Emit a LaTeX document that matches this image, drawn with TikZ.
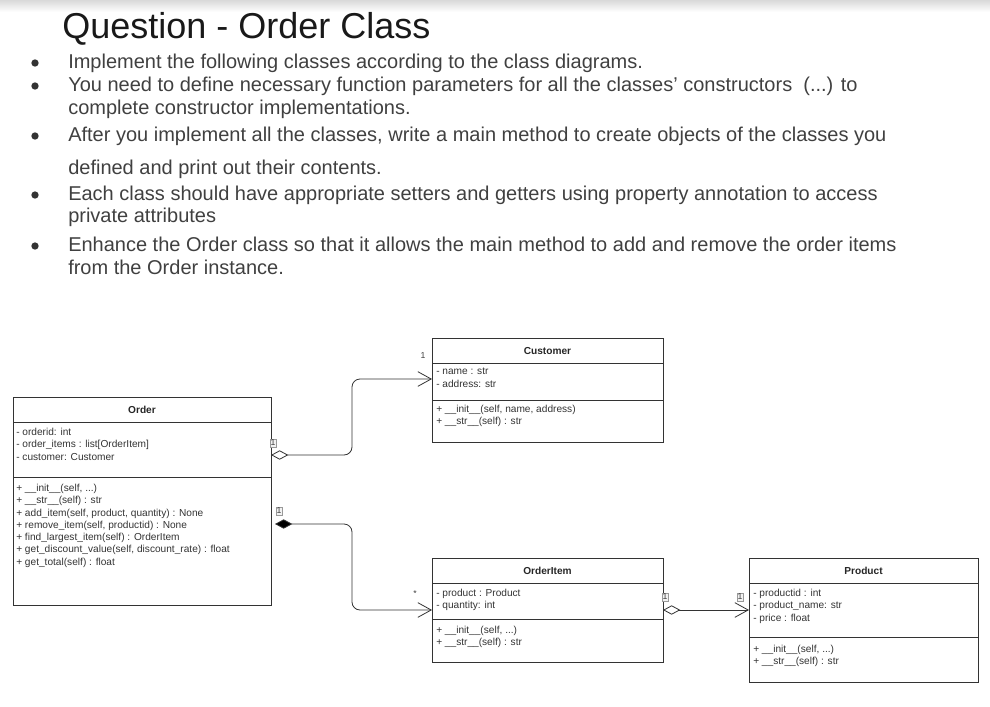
\documentclass[tikz,border=0pt]{standalone}
\usepackage{fontspec}
\setmainfont{Liberation Sans}
\usetikzlibrary{arrows.meta}
\begin{document}
\begin{tikzpicture}[x=0.75pt,y=-0.75pt,
  cls/.style={draw=black!80,line width=0.6pt},
  sm/.style={font=\fontsize{7.6}{9.2}\selectfont,text=black!80,anchor=north west,align=left,inner sep=0pt},
  ttl/.style={font=\fontsize{7.6}{9}\selectfont,text=black!85},
  bul/.style={font=\fontsize{15}{17.5}\selectfont,text=black!75,anchor=base west,inner sep=0pt},
  dot/.style={fill=black!80,circle,inner sep=0pt,minimum size=5.5pt},
  conn/.style={draw=black!80,line width=0.6pt,rounded corners=6pt},
  mult/.style={font=\fontsize{6.5}{7}\selectfont,text=black!75,inner sep=0.6pt},
  bmult/.style={mult,draw=black!40,fill=black!5}]
\useasboundingbox (0,0) rectangle (990,707);
\shade[top color=black!15,bottom color=white] (0,0) rectangle (990,12);
\node[anchor=base west,inner sep=0pt,font=\fontsize{27}{30}\selectfont,text=black!90] (title) at (62,38) {Question - Order Class};
% bullets
\foreach \y in {68,91,141,200,251}{\node[dot] at (35,\y-5) {};}
\node[bul] (b1) at (68,68) {Implement the following classes according to the class diagrams.};
\node[bul] (b2) at (68,91) {You need to define necessary function parameters for all the classes’ constructors\ \ (...) to};
\node[bul] (b2b) at (68,114) {complete constructor implementations.};
\node[bul] (b3) at (68,141) {After you implement all the classes, write a main method to create objects of the classes you};
\node[bul] (b3b) at (68,174) {defined and print out their contents.};
\node[bul] (b4) at (68,200) {Each class should have appropriate setters and getters using property annotation to access};
\node[bul] (b4b) at (68,222) {private attributes};
\node[bul] (b5) at (68,251) {Enhance the Order class so that it allows the main method to add and remove the order items};
\node[bul] (b5b) at (68,274) {from the Order instance.};
% Customer
\draw[cls] (432,338) rectangle (663,442); \draw[cls] (432,363)--(663,363); \draw[cls] (432,400)--(663,400);
\node[ttl,font=\fontsize{7.6}{9}\bfseries\selectfont] (cust) at (547.5,351) {Customer};
\node[sm] (custa) at (436,368) {- name : str\\- address: str};
\node[sm] (custm) at (436,405) {+ \_\_init\_\_(self, name, address)\\+ \_\_str\_\_(self) : str};
\coordinate (custin) at (432,379);
% Order
\draw[cls] (13,397) rectangle (271,605); \draw[cls] (13,422)--(271,422); \draw[cls] (13,477)--(271,477);
\node[ttl,font=\fontsize{7.6}{9}\bfseries\selectfont] (ord) at (142,410) {Order};
\node[sm] (orda) at (16,428) {- orderid: int\\- order\_items : list[OrderItem]\\- customer: Customer};
\node[sm] (ordm) at (16,484) {+ \_\_init\_\_(self, ...)\\+ \_\_str\_\_(self) : str\\+ add\_item(self, product, quantity) : None\\+ remove\_item(self, productid) : None\\+ find\_largest\_item(self) : OrderItem\\+ get\_discount\_value(self, discount\_rate) : float\\+ get\_total(self) : float};
\coordinate (ordagg) at (271,455);
\coordinate (ordcomp) at (275,524);
% OrderItem
\draw[cls] (432,558) rectangle (663,662); \draw[cls] (432,583)--(663,583); \draw[cls] (432,619)--(663,619);
\node[ttl,font=\fontsize{7.6}{9}\bfseries\selectfont] (oi) at (547.5,571) {OrderItem};
\node[sm] (oia) at (436,589) {- product : Product\\- quantity: int};
\node[sm] (oim) at (436,626) {+ \_\_init\_\_(self, ...)\\+ \_\_str\_\_(self) : str};
\coordinate (oiin) at (432,610);
\coordinate (oiout) at (663,610);
% Product
\draw[cls] (749,558) rectangle (978,682); \draw[cls] (749,583)--(978,583); \draw[cls] (749,637)--(978,637);
\node[ttl,font=\fontsize{7.6}{9}\bfseries\selectfont] (prod) at (863.5,571) {Product};
\node[sm] (proda) at (753,589) {- productid : int\\- product\_name: str\\- price : float};
\node[sm] (prodm) at (753,645) {+ \_\_init\_\_(self, ...)\\+ \_\_str\_\_(self) : str};
\coordinate (prodin) at (749,610);
% connectors
\draw[conn,{Diamond[open,length=13pt,width=7pt]}-{Straight Barb[length=10pt,width=11pt]}] (ordagg) -| (352,420) |- (custin);
\draw[conn,{Diamond[fill=black,length=13pt,width=7pt]}-{Straight Barb[length=10pt,width=11pt]}] (ordcomp) -| (352,560) |- (oiin);
\draw[conn,{Diamond[open,length=13pt,width=7pt]}-{Straight Barb[length=10pt,width=11pt]}] (oiout) -- (prodin);
\node[mult] (m1) at (423,356) {1};
\node[bmult] (m2) at (273,443) {1};
\node[bmult] (m3) at (279,511) {1};
\node[mult] (m4) at (415,594) {*};
\node[bmult] (m5) at (665,597) {1};
\node[bmult] (m6) at (740,597) {1};
\end{tikzpicture}
\end{document}
